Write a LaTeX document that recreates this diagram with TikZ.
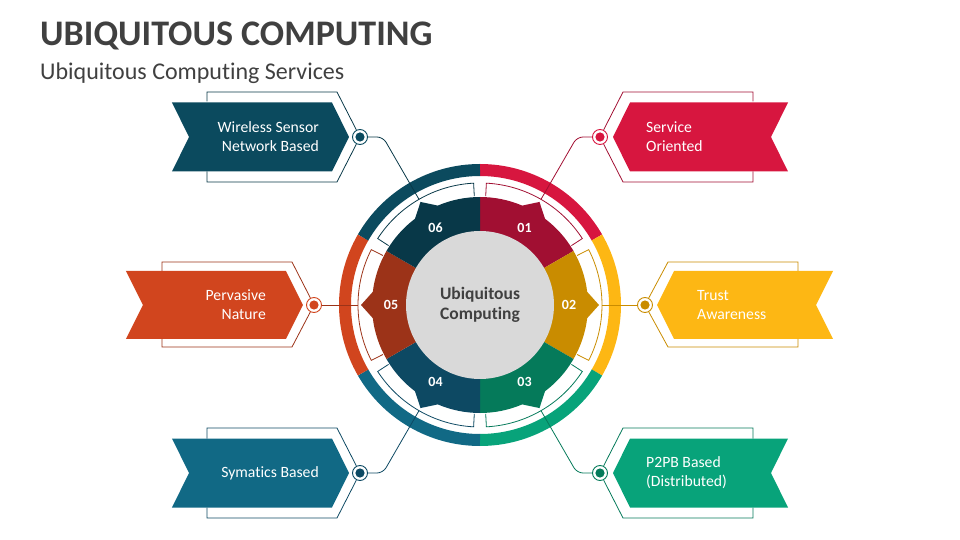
\documentclass[tikz,border=0pt]{standalone}
\usepackage{fontspec}
\setmainfont{Carlito}[Ligatures=NoCommon]
\usepackage{tikz}
\usetikzlibrary{positioning}

\definecolor{redA}{HTML}{D7163F}   \definecolor{redB}{HTML}{A10F32}
\definecolor{goldA}{HTML}{FDB714}  \definecolor{goldB}{HTML}{C98C00}
\definecolor{greenA}{HTML}{08A37A} \definecolor{greenB}{HTML}{057A5A}
\definecolor{blueA}{HTML}{116985}  \definecolor{blueB}{HTML}{0D4963}
\definecolor{rustA}{HTML}{D1451E}  \definecolor{rustB}{HTML}{9C3318}
\definecolor{navyA}{HTML}{0B4A5E}  \definecolor{navyB}{HTML}{083848}
\definecolor{hubgrey}{HTML}{D9D9D9}
\definecolor{ink}{HTML}{404040}

% one sixth of the wheel: angle, ring colour, dark colour, number
\newcommand{\wheelpart}[4]{%
  \fill[#3] (0,0) -- (#1-30:108) arc[start angle=#1-30, end angle=#1-7, radius=108]
    -- (#1:119) -- (#1+7:108) arc[start angle=#1+7, end angle=#1+30, radius=108] -- cycle;
  \draw[#2, line width=12pt] (#1-30:135) arc[start angle=#1-30, end angle=#1+30, radius=135];
  \draw[wire=#3] (#1-27:109) -- (#1-27:122) arc[start angle=#1-27, end angle=#1+27, radius=122] -- (#1+27:109);
  \node[num] (n#4) at (#1:89) {#4};
}
% banner pointing right / left: x from, x to, centre y, half height, colour
\newcommand{\flagright}[5]{%
  \fill[#5] (#1,#3+#4) -- (#2,#3+#4) -- (#2+17,#3) -- (#2,#3-#4) -- (#1,#3-#4) -- (#1+17,#3) -- cycle;}
\newcommand{\flagleft}[5]{%
  \fill[#5] (#1,#3) -- (#1+17,#3+#4) -- (#2,#3+#4) -- (#2-17,#3) -- (#2,#3-#4) -- (#1+17,#3-#4) -- cycle;}

\begin{document}
\begin{tikzpicture}[x=1pt, y=1pt,
  wire/.style={draw=#1, line width=0.8pt},
  num/.style={text=white, font=\bfseries\fontsize{14}{16}\selectfont},
  lbl/.style={text=white, font=\fontsize{15.7}{19}\selectfont, inner sep=0pt},
  marker/.style={circle, draw=#1, fill=white, line width=0.9pt, minimum size=15pt, inner sep=0pt,
    path picture={\fill[#1] (path picture bounding box.center) circle (4.6pt);}}]

  \useasboundingbox (-480,-235) rectangle (480,305);

  % title
  \node[anchor=base west, inner sep=0pt, text=ink, font=\bfseries\fontsize{36}{40}\selectfont] (title) at (-440,259) {UBIQUITOUS COMPUTING};
  \node[anchor=base west, inner sep=0pt, text=ink, font=\fontsize{24}{28}\selectfont] (subtitle) at (-440,225) {Ubiquitous Computing Services};

  % wheel
  \wheelpart{60}{redA}{redB}{01}
  \wheelpart{0}{goldA}{goldB}{02}
  \wheelpart{-60}{greenA}{greenB}{03}
  \wheelpart{-120}{blueA}{blueB}{04}
  \wheelpart{180}{rustA}{rustB}{05}
  \wheelpart{120}{navyA}{navyB}{06}
  \fill[hubgrey] (0,0) circle (74);
  \node[text=ink, align=center, font=\bfseries\fontsize{17.5}{20}\selectfont] (hub) at (0,0) {Ubiquitous\\Computing};

  % markers
  \node[marker=redA] (m1) at (120,168) {};
  \node[marker=goldB] (m2) at (165,0) {};
  \node[marker=greenB] (m3) at (120,-168) {};
  \node[marker=blueB] (m4) at (-120,-168) {};
  \node[marker=rustA] (m5) at (-166,0) {};
  \node[marker=navyA] (m6) at (-120,168) {};

  % wheel -> marker
  \coordinate (b1) at (60:122);   \coordinate (k1) at (60:194);
  \coordinate (b2) at (0:122);
  \coordinate (b3) at (-60:122);  \coordinate (k3) at (-60:194);
  \coordinate (b4) at (-120:122); \coordinate (k4) at (-120:194);
  \coordinate (b5) at (180:122);
  \coordinate (b6) at (120:122);  \coordinate (k6) at (120:194);
  \draw[wire=redB, rounded corners=6pt] (b1) -- (k1) -- (m1); % 01
  \draw[wire=goldB] (b2) -- (m2); % 02
  \draw[wire=greenB, rounded corners=6pt] (b3) -- (k3) -- (m3); % 03
  \draw[wire=blueB, rounded corners=6pt] (b4) -- (k4) -- (m4); % 04
  \draw[wire=rustB] (b5) -- (m5); % 05
  \draw[wire=navyB, rounded corners=6pt] (b6) -- (k6) -- (m6); % 06

  % banners
  \flagleft{133}{308}{168}{34.5}{redA}
  \flagleft{177}{353}{0}{34}{goldA}
  \flagleft{133}{308}{-168}{34.5}{greenA}
  \flagright{-308}{-148}{-168}{34.5}{blueA}
  \flagright{-354}{-194}{0}{34}{rustA}
  \flagright{-308}{-148}{168}{34.5}{navyA}

  % outlines round the banners
  \draw[wire=redB] (m1) -- (143,213) -- (273,213) -- (273,203.5);
  \draw[wire=redB] (m1) -- (143,123) -- (273,123) -- (273,133.5);
  \draw[wire=goldB] (m2) -- (188,43) -- (318,43) -- (318,34);
  \draw[wire=goldB] (m2) -- (188,-42) -- (318,-42) -- (318,-34);
  \draw[wire=greenB] (m3) -- (143,-123) -- (273,-123) -- (273,-133.5);
  \draw[wire=greenB] (m3) -- (143,-213) -- (273,-213) -- (273,-202.5);
  \draw[wire=blueB] (m4) -- (-143,-123) -- (-273,-123) -- (-273,-133.5);
  \draw[wire=blueB] (m4) -- (-143,-213) -- (-273,-213) -- (-273,-202.5);
  \draw[wire=rustB] (m5) -- (-188,43) -- (-318,43) -- (-318,34);
  \draw[wire=rustB] (m5) -- (-188,-42) -- (-318,-42) -- (-318,-34);
  \draw[wire=navyB] (m6) -- (-143,213) -- (-273,213) -- (-273,203.5);
  \draw[wire=navyB] (m6) -- (-143,123) -- (-273,123) -- (-273,133.5);

  % banner texts
  \node[lbl, anchor=west, align=left] (t1) at (166,168) {Service\\Oriented};
  \node[lbl, anchor=west, align=left] (t2) at (217,0) {Trust\\Awareness};
  \node[lbl, anchor=west, align=left] (t3) at (166,-168) {P2PB Based\\(Distributed)};
  \node[lbl, anchor=east, align=right] (t4) at (-161,-168) {Symatics Based};
  \node[lbl, anchor=east, align=right] (t5) at (-214,0) {Pervasive\\Nature};
  \node[lbl, anchor=east, align=right] (t6) at (-161,168) {Wireless Sensor\\Network Based};

\end{tikzpicture}
\end{document}
